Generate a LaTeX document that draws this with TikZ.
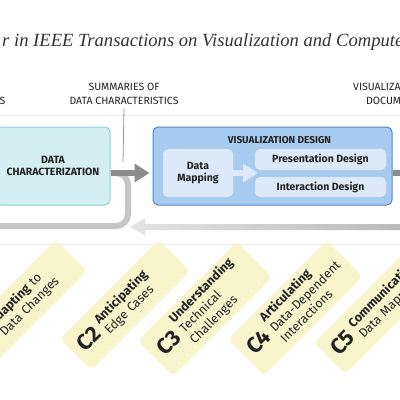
\documentclass[tikz,border=0pt]{standalone}
\usepackage{fontspec}
\setmainfont{Fira Sans}
\newfontfamily\headfont{Liberation Serif}
\usetikzlibrary{positioning,arrows.meta,calc}

\definecolor{charfill}{HTML}{D4EEF3}
\definecolor{chardraw}{HTML}{8CD2DD}
\definecolor{designfill}{HTML}{A6CBEE}
\definecolor{designdraw}{HTML}{5088CC}
\definecolor{partfill}{HTML}{DCE9F8}
\definecolor{cardfill}{HTML}{F8F5CC}
\definecolor{flowgray}{HTML}{8C8C8C}
\definecolor{loopgray}{HTML}{C6C6C6}
\definecolor{backlight}{HTML}{E4E4E4}
\definecolor{backdark}{HTML}{B9B9B9}
\definecolor{rulegray}{HTML}{ECECEC}
\definecolor{inkcol}{HTML}{222222}

\tikzset{
  stagebox/.style={rounded corners=5pt, line width=1pt},
  stagetext/.style={font=\bfseries\fontsize{10}{12}\selectfont, align=center, text=inkcol},
  partbox/.style={fill=partfill, rounded corners=5pt, inner sep=0pt, align=center,
    text=inkcol, font=\bfseries\fontsize{10.5}{12.5}\selectfont},
  caplabel/.style={font=\fontsize{10.5}{14}\selectfont, align=center, text=inkcol},
  card/.style={fill=cardfill, rounded corners=6pt, rotate=45, minimum width=140pt,
    text width=124pt, inner xsep=8pt, inner ysep=2pt, align=left, text=inkcol,
    font=\fontsize{12.5}{14.8}\selectfont},
  flow/.style={line width=6pt, -{Triangle[length=15pt,width=18pt]}},
}
\newcommand{\cnum}[1]{\begin{tabular}[c]{@{}l@{}}\fontsize{22}{22}\selectfont\bfseries #1\end{tabular}}
\newcommand{\cdesc}[1]{\begin{tabular}[c]{@{}l@{}}#1\end{tabular}}

\begin{document}
\begin{tikzpicture}[x=1pt,y=-1pt]
  \useasboundingbox (0,0) rectangle (400,400);
  \fill[white] (0,0) rectangle (400,400);
  \clip (0,0) rectangle (400,400);

  % running head
  \node[anchor=base west, inner sep=0pt, text=black!80,
    font=\headfont\itshape\fontsize{18.6}{20}\selectfont] (journal) at (2,46)
    {r in IEEE Transactions on Visualization and Compute};

  % rules
  \draw[rulegray, line width=1pt] (0,115) -- (400,115);
  \draw[rulegray, line width=1pt] (0,244) -- (400,244);

  % labels
  \node[caplabel, anchor=east, inner sep=0pt] (inlabel) at (5.5,101) {S};
  \node[caplabel] (summary) at (124,94) {SUMMARIES OF\\DATA CHARACTERISTICS};
  \node[caplabel, anchor=west, inner sep=0pt] (vislabel) at (353,87) {VISUALIZA};
  \node[caplabel, anchor=west, inner sep=0pt] (doclabel) at (366,101) {DOCUM};

  % stages
  \node[stagebox, fill=charfill, draw=chardraw, minimum width=114pt, minimum height=78pt]
    (charbox) at (53,166) {};
  \node[stagetext, font=\bfseries\fontsize{10.5}{12.5}\selectfont] (chartext) at (charbox.center)
    {DATA\\CHARACTERIZATION};
  \node[stagebox, fill=designfill, draw=designdraw, minimum width=239pt, minimum height=78pt]
    (designbox) at (272.5,166) {};
  \node[stagetext] (designtitle) at (279.5,140) {VISUALIZATION DESIGN};
  \node[partbox, minimum width=70pt, minimum height=48pt] (mapping) at (198,173) {Data\\Mapping};
  \node[partbox, minimum width=131pt, minimum height=21pt] (present) at (320.5,159.5) {Presentation Design};
  \node[partbox, minimum width=131pt, minimum height=20pt] (interact) at (320.5,187) {Interaction Design};

  % connectors
  \coordinate (maptip) at (258,173);
  \coordinate (tap) at (123,162);
  \coordinate (docin) at (410,173);
  \coordinate (loopend) at (-10,226);
  \coordinate (backtip) at (130,227);
  \draw[loopgray, line width=6pt, rounded corners=12pt]
    (charbox.east |- mapping.center) -- (128,173) -- (128,226) -- (loopend);
  \draw[gray!80, line width=0.8pt] (summary.south) -- (tap);
  \draw[flow, flowgray, shorten >=3pt] (charbox.east |- mapping.center) -- (designbox.west |- mapping.center);
  \draw[flowgray, line width=6pt] (designbox.east |- mapping.center) -- (docin);
  \draw[flow, partfill] (mapping.east) -- (maptip);
  \shade[left color=backlight, right color=backdark]
    (backtip) -- ++(15,-8.5) -- ++(0,5.5) -- (410,224) -- (410,230)
    -- ($(backtip)+(15,3)$) -- ++(0,5.5) -- cycle;

  % challenges
  \node[card, minimum height=44pt] (adapt) at (22,305)
    {\cnum{C1}\hspace{6pt}\cdesc{\textbf{Adapting} to\\Data Changes}};
  \node[card, minimum height=44pt] (anticip) at (125,305)
    {\cnum{C2}\hspace{6pt}\cdesc{\textbf{Anticipating}\\Edge Cases}};
  \node[card, minimum height=50pt] (understand) at (205,309)
    {\cnum{C3}\hspace{6pt}\cdesc{\textbf{Understanding}\\Technical\\Challenges}};
  \node[card, minimum height=51pt] (articul) at (295.5,308)
    {\cnum{C4}\hspace{6pt}\cdesc{\textbf{Articulating}\\Data-Dependent\\Interactions}};
  \node[card, minimum height=44pt] (communic) at (379,309)
    {\cnum{C5}\hspace{6pt}\cdesc{\textbf{Communicating}\\Data Mapping}};
\end{tikzpicture}
\end{document}
